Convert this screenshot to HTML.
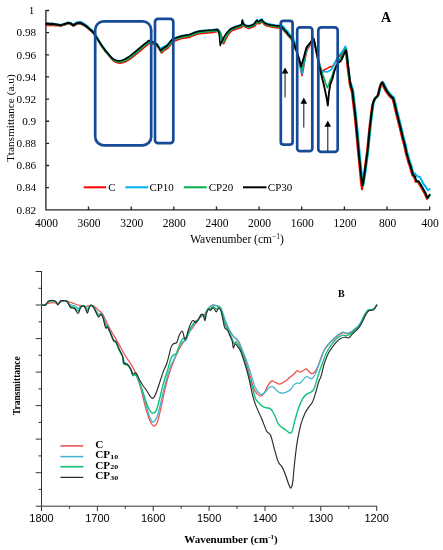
<!DOCTYPE html>
<html><head><meta charset="utf-8"><title>FTIR spectra</title>
<style>html,body{margin:0;padding:0;background:#fff}svg{display:block}text{fill:#000}</style></head>
<body>
<svg width="443" height="550" viewBox="0 0 443 550">
<rect width="443" height="550" fill="#fff"/>
<defs><filter id="soft" x="0" y="0" width="443" height="550" filterUnits="userSpaceOnUse"><feGaussianBlur stdDeviation="0.35"/></filter></defs>
<g filter="url(#soft)">
<g stroke="#262626" stroke-width="1.35" fill="none">
<path d="M45.9 10.0 V209.8 H430.2 M45.9 10.5 h3.2 M45.9 32.6 h3.2 M45.9 54.8 h3.2 M45.9 76.9 h3.2 M45.9 99.1 h3.2 M45.9 121.2 h3.2 M45.9 143.3 h3.2 M45.9 165.5 h3.2 M45.9 187.6 h3.2 M45.9 209.8 h3.2 M88.5 209.8 v-3.4 M131.2 209.8 v-3.4 M173.8 209.8 v-3.4 M216.5 209.8 v-3.4 M259.1 209.8 v-3.4 M301.7 209.8 v-3.4 M344.4 209.8 v-3.4 M387 209.8 v-3.4 M429.7 209.8 v-3.4"/></g>
<g style="font-family:'Liberation Serif',serif;font-size:11.2px" text-anchor="end">
<text x="34.4" y="14.2">1</text>
<text x="36.2" y="36.3">0.98</text>
<text x="36.2" y="58.5">0.96</text>
<text x="36.2" y="80.6">0.94</text>
<text x="36.2" y="102.8">0.92</text>
<text x="36.2" y="124.9">0.9</text>
<text x="36.2" y="147">0.88</text>
<text x="36.2" y="169.2">0.86</text>
<text x="36.2" y="191.3">0.84</text>
<text x="36.2" y="213.5">0.82</text>
</g>
<g style="font-family:'Liberation Serif',serif;font-size:11.5px" text-anchor="middle">
<text x="46.4" y="226.8">4000</text>
<text x="89" y="226.8">3600</text>
<text x="131.7" y="226.8">3200</text>
<text x="174.3" y="226.8">2800</text>
<text x="217" y="226.8">2400</text>
<text x="259.6" y="226.8">2000</text>
<text x="302.2" y="226.8">1600</text>
<text x="344.9" y="226.8">1200</text>
<text x="387.5" y="226.8">800</text>
<text x="430.2" y="226.8">400</text>
</g>
<text x="237" y="242.6" text-anchor="middle" style="font-family:'Liberation Serif',serif;font-size:11.5px">Wavenumber (cm<tspan dy="-4" font-size="7.5">−1</tspan><tspan dy="4">)</tspan></text>
<text transform="translate(14.4 118.2) rotate(-90)" text-anchor="middle" style="font-family:'Liberation Serif',serif;font-size:11.3px">Ttansmittance (a.u)</text>
<text x="386" y="22" text-anchor="middle" style="font-family:'Liberation Serif',serif;font-size:14px;font-weight:bold">A</text>
<g fill="none" stroke-linejoin="round" stroke-linecap="round" stroke-width="2">
<path stroke="#ff0000" d="M46 25.2 L48 25 L50 25.3 L52 25 L54 25.3 L55.3 25.4 L57 25.6 L59 25.6 L60.9 25.9 L62.5 25.2 L64.3 24.8 L66 24.2 L68.4 23.4 L69.8 23.9 L71.2 24.2 L72.3 25.2 L73.4 26 L75.1 24.9 L76.8 24 L78.5 23.7 L80.3 23.5 L81.7 24.2 L83.1 24.9 L84.5 25.7 L86 26.6 L87.7 28 L89.4 29.6 L91.2 31.1 L92.9 32.6 L94.4 34.6 L97.6 39.4 L101.7 46.1 L105.8 51.8 L109.9 56.6 L112.4 59.6 L114.5 61.4 L117.3 62.5 L120 62.9 L122.7 62.6 L125.4 61.6 L129.5 59.2 L133.5 56.2 L137.6 52.8 L141.7 49.4 L145 46.6 L148.4 44 L149.6 42.8 L151.8 43.1 L153.6 44.1 L155.6 45 L157.7 46.2 L159.7 49.6 L161.6 52.8 L162.9 51.3 L164.4 50.1 L167.7 48.1 L170.5 44.7 L173.2 41.3 L176.6 40 L179.9 38.9 L183.3 37.9 L186.9 37.4 L190.1 36.9 L192.9 35.7 L195.5 34.6 L199.9 33.4 L204.9 32.9 L210.3 32.4 L213.8 32.1 L218.3 31.2 L220.4 33 L221.8 37.5 L223.2 43.5 L224.2 42.5 L225.4 39.5 L227 36.5 L229.1 33.5 L231.2 30.8 L235.7 29 L241.4 27.2 L242.3 26.4 L243 22.1 L243.7 24.9 L244.4 26.2 L246.2 27.4 L248.5 28.2 L251.6 27.4 L254.5 26.2 L256.1 23.9 L257.5 22.1 L258.5 23.4 L259.5 23.6 L260.9 22.2 L262.2 21.5 L263.6 23.4 L265.6 25.2 L268.6 26.1 L271.5 26.7 L275.5 27.4 L279.8 27.8 L280.7 27.4 L283 29.3 L285.1 31.9 L286.9 33.7 L288.7 36.3 L290.3 37.8 L292.3 40 L294 44.5 L295.8 49.9"/>
<path stroke="#ff0000" stroke-width="1.55" d="M297.8 56 L299.5 63 L300.8 70 L302 75.6 L303.2 70 L304.5 62 L306 54 L307.5 49 L309.5 46 L311.5 43 L313.5 40 L315 45 L316.5 52 L318.5 60 L320.5 67 L322.5 72.1 L323.8 70.1 L325.7 69.1 L327.7 68.1 L329.7 66.8 L331.4 66.8 L332.9 66.2 L334.3 64 L336.9 59.5"/>
<path stroke="#ff0000" d="M339.8 56 L342.8 53 L344.2 50.8 L345.6 48.8 L346.4 51.5 L346.4 57 L347.5 67.2 L348.5 75 L349.5 83.2 L350.6 88 L351.8 91.9 L353.2 104 L354.7 116.6 L356.2 132 L357.7 148.6 L358.8 160 L360 171.8 L361 183 L362 189.3 L363.1 183 L364.3 171.8 L365.6 162 L367 151.5 L368.1 140 L369.3 128.2 L370.7 116 L372.2 105 L373.3 101.5 L374.5 99.1 L375.9 98 L377.4 96.2 L378.4 92 L379.5 87.5 L380.5 84.6 L381.5 83.2 L382.6 85 L383.8 87.5 L385.9 91.5 L388.2 94.8 L390.4 97.2 L392.5 99.1 L393.9 104 L395.4 110.8 L397.6 119.5 L399.8 128.2 L402.1 138 L404.2 145.7 L405.9 153.7 L408.5 163.1 L409.8 166.4 L412.3 175.4 L414.2 177.3 L415.5 181.7 L418 182.3 L421.2 187.4 L424.4 193.2 L426.9 198.9 L429.1 195.7"/>
<path stroke="#00b0f0" d="M46 23.6 L48 23.4 L50 23.8 L52 23.5 L54 23.9 L55.3 24 L57 24.4 L59 24.6 L60.9 25 L62.5 24.3 L64.3 23.9 L66 23.3 L68.3 22.5 L69.7 23 L71.1 23.2 L72.3 24 L73.4 24.6 L75.2 23.3 L76.9 22.3 L78.6 22 L80.4 21.8 L81.8 22.5 L83.2 23.2 L84.6 24 L86.1 25 L87.7 26.4 L89.4 28 L91.1 29.5 L92.8 31 L94.2 33 L97.3 37.7 L101.2 44.4 L105.2 50 L109.2 54.9 L111.7 57.8 L113.8 59.6 L116.5 60.6 L119.2 60.9 L121.9 60.6 L124.6 59.6 L128.7 57.2 L132.7 54.1 L136.8 50.7 L140.9 47.3 L144.2 44.5 L147.6 41.9 L148.8 40.7 L151 41 L152.8 42 L154.8 42.9 L156.9 43.9 L158.9 46.8 L160.9 49.2 L162.2 47.8 L163.7 46.8 L167 45.2 L169.8 42.2 L172.5 39.2 L175.9 37.8 L179.2 36.7 L182.6 35.7 L186.2 35.2 L189.4 34.7 L192.2 33.4 L194.8 32.3 L199.2 31.1 L204.2 30.6 L209.6 30.1 L213.2 29.8 L217.5 29.2 L219.6 31 L221 35.5 L222.4 41.5 L223.4 40.5 L224.6 37.5 L226.2 34.5 L228.3 31.5 L230.5 28.8 L235.2 26.7 L240.9 25 L241.8 24.2 L242.5 19.9 L243.2 22.7 L243.9 24 L245.7 25.2 L248 26 L251.2 25.2 L254.1 24 L255.7 21.7 L257.1 19.9 L258.1 21.2 L259.1 21.4 L260.5 19.9 L261.8 19.2 L263.2 21.1 L265.2 22.9 L268.2 23.9 L271.2 24.5 L275.2 25.2 L279.6 25.5 L280.8 25 L283.3 26.7 L285.5 29.4 L287.3 31.2 L289.2 33.9 L290.8 35.4 L292.8 37.6 L294.6 42.2 L296.4 47.6"/>
<path stroke="#00b0f0" stroke-width="1.55" d="M296.4 47.6 L297.8 55 L299.5 62 L300.8 68.5 L302 73.8 L303.2 68 L304.5 60 L306 52 L307.5 47.5 L309.5 44.5 L311.5 41.5 L313.5 38.8 L315 44 L316.5 51 L318.5 60 L320.5 67.5 L322.5 72.7 L324.4 71.2 L326.4 72.1 L328.4 71.4 L330.3 70.4 L332.3 68.1 L334.3 63.6 L336.9 58.3"/>
<path stroke="#00b0f0" d="M340.1 54.4 L342.8 51.1 L344.2 48.8 L345.4 46.5 L346.6 51 L347.6 60 L348.6 70 L349.8 80 L352 86.5 L353.2 90.4 L354.6 102.5 L356.1 115.1 L357.6 130.5 L359.1 147.1 L360.2 158.5 L361.4 170.3 L362.4 178.5 L363.4 184.8 L364.5 178.5 L365.7 170.3 L367 160.5 L368.4 150 L369.5 138.5 L370.7 126.7 L372.1 114.5 L373.6 103.5 L374.7 100 L375.9 97.6 L377.3 96.5 L378.8 94.7 L379.8 90.5 L380.9 86 L381.9 83.1 L382.9 81.7 L384 83.5 L385.2 86 L387.3 90 L389.6 93.3 L391.8 95.7 L393.9 97.6 L395.3 102.5 L396.8 109.3 L399 118 L401.2 126.7 L403.5 136.5 L405.6 144.2 L407.3 152.2 L409.9 161.6 L411.2 164.9 L413.7 173.9 L414.8 173.3 L417.4 176.3 L419.9 176.9 L423.1 183.3 L426.3 187.7 L427.9 190.3 L429.7 189"/>
<path stroke="#00b050" d="M46 24.2 L48 24 L50 24.4 L52 24.1 L54 24.5 L55.3 24.6 L57.1 25 L59.1 25.3 L61 25.7 L62.6 25 L64.4 24.6 L66.1 23.9 L68.4 23.1 L69.8 23.6 L71.2 23.9 L72.3 24.9 L73.4 25.6 L75.1 24.5 L76.9 23.6 L78.6 23.3 L80.3 23.1 L81.7 23.8 L83.1 24.5 L84.5 25.3 L86 26.2 L87.6 27.6 L89.4 29.1 L91.1 30.6 L92.8 32 L94.2 34 L97.4 38.7 L101.4 45.3 L105.5 50.9 L109.5 55.7 L112 58.6 L114.2 60.4 L116.9 61.5 L119.6 61.8 L122.3 61.5 L125 60.5 L129.1 58.1 L133.1 55.1 L137.2 51.7 L141.3 48.3 L144.6 45.5 L148 42.9 L149.2 41.7 L151.4 42 L153.2 43 L155.2 43.9 L157.3 45.1 L159.3 48.5 L161.2 51.7 L162.5 50.2 L164 49 L167.3 47 L170.1 43.6 L172.8 40.2 L176.2 38.9 L179.5 37.8 L182.9 36.8 L186.5 36.3 L189.7 35.8 L192.5 34.6 L195.1 33.5 L199.5 32.3 L204.5 31.8 L209.9 31.3 L213.5 31 L217.7 30.4 L219.8 32.2 L221.1 36.6 L222.5 42.6 L223.5 41.6 L224.7 38.6 L226.3 35.6 L228.4 32.6 L230.6 29.9 L235.4 27.9 L241.1 26.2 L242 25.4 L242.7 21.1 L243.4 23.9 L244.1 25.2 L245.9 26.4 L248.2 27.2 L251.4 26.4 L254.3 25.2 L255.9 22.9 L257.3 21.1 L258.3 22.4 L259.3 22.6 L260.6 21.1 L261.9 20.4 L263.3 22.3 L265.3 24.1 L268.3 25.1 L271.3 25.7 L275.3 26.4 L279.6 26.8 L280.5 26.4 L282.8 28.3 L284.9 30.9 L286.7 32.7 L288.6 35.4 L290.2 36.9 L292.1 39 L293.9 43.6 L295.7 49"/>
<path stroke="#00b050" stroke-width="1.55" d="M297.8 55 L299.5 61 L300.8 66.5 L302 70.2 L303.2 65 L304.5 58.5 L306 51 L307.5 47 L309.5 44.2 L311.5 41.3 L313.5 38.8 L315 44 L316.5 51 L318.5 60.5 L320.5 69 L322 73 L323.1 75.3 L324.4 79.3 L325.7 83.8 L327.4 87.8 L328.8 84.5 L330.1 79.9 L331.6 77.3 L333.6 71.4 L336.2 64.9"/>
<path stroke="#00b050" d="M339.5 59.6 L342.8 55.1 L344.2 52 L345.6 49 L347 55 L348.1 65.5 L349.1 73.5 L350.1 81.7 L351.4 87.5 L352.6 91.4 L354 103.5 L355.5 116.1 L357 131.5 L358.5 148.1 L359.6 159.5 L360.8 171.3 L361.8 179.5 L362.8 185.8 L363.9 179.5 L365.1 171.3 L366.4 161.5 L367.8 151 L368.9 139.5 L370.1 127.7 L371.5 115.5 L373 104.5 L374.1 101 L375.3 98.6 L376.7 97.5 L378.2 95.7 L379.2 91.5 L380.3 87 L381.3 84.1 L382.3 82.7 L383.4 84.5 L384.6 87 L386.7 91 L389 94.3 L391.2 96.7 L393.3 98.6 L394.7 103.5 L396.2 110.3 L398.4 119 L400.6 127.7 L402.9 137.5 L405 145.2 L406.7 153.2 L409.3 162.6 L410.6 165.9 L413.1 174.9 L415 176.8 L416.3 181.2 L418.8 181.8 L422 186.9 L425.2 192.7 L427.7 198.4 L429.9 195.2"/>
<path stroke="#000" stroke-width="2" d="M46 23.8 L48 23.6 L50 24 L52 23.7 L54 24.1 L55.3 24.2 L57 24.6 L59 24.9 L60.9 25.3 L62.5 24.6 L64.3 24.2 L66 23.6 L68.3 22.8 L69.7 23.3 L71.1 23.6 L72.2 24.6 L73.3 25.3 L75 24.2 L76.7 23.3 L78.4 23 L80.1 22.8 L81.5 23.5 L82.9 24.2 L84.3 25 L85.8 25.9 L87.4 27.2 L89.1 28.7 L90.8 30.1 L92.5 31.5"/>
<path stroke="#000" stroke-width="1.5" d="M92.5 31.5 L93.9 33.4 L97 38 L101 44.5 L105 50 L109 54.7 L111.5 57.6 L113.6 59.4 L116.3 60.4 L119 60.7 L121.7 60.4 L124.4 59.4 L128.5 57 L132.5 54 L136.6 50.6 L140.7 47.2 L144 44.4 L147.4 41.8 L148.6 40.6 L150.8 40.9 L152.6 41.9 L154.6 42.8 L156.7 44 L158.7 47.4 L160.7 50.7 L162 49.2 L163.5 48 L166.8 46 L169.6 42.6 L172.3 39.2 L175.7 37.9 L179 36.8 L182.4 35.8 L186 35.3 L189.2 34.8 L192 33.6 L194.6 32.5 L199 31.3 L204 30.8 L209.4 30.3 L213 30 L217.3 29.4 L218.5 31 L219.3 35.5 L220.3 45.6 L221.3 42 L222.4 40.6 L224 37 L225.4 34.5 L228 31.5 L230.5 29 L235 27 L240.7 25.3 L241.6 24.5 L242.3 20.2 L243 23 L243.7 24.3 L245.5 25.5 L247.8 26.3 L251 25.5 L253.9 24.3 L255.5 22 L256.9 20.2 L257.9 21.5 L258.9 21.7 L260.3 20.3 L261.6 19.6 L263 21.5 L265 23.3 L268 24.3 L271 24.9 L275 25.6 L279.3 26 L280.2 25.6 L282.5 27.5 L284.7 30.2 L286.5 32 L288.4 34.7 L290 36.2 L292 38.4"/>
<path stroke="#000" stroke-width="1.85" d="M292 38.4 L293.8 43 L295.6 48.4 L297.5 54 L299.3 59.3 L300.2 63 L301.1 66.5 L302.4 62 L303.8 57.5 L305.2 52 L306.5 47.5 L308.3 45 L310.2 42.9 L312 40.2 L313.5 38.4 L314.5 42 L315.6 48.4 L317.4 57 L319.3 66.5 L321.5 75.5 L323.8 84.7 L325.2 91 L326.5 97.5 L327.3 102 L327.8 105.6 L328.4 99 L329 92.4 L330.3 84.5 L331.3 81.5 L332.3 79.3 L333.3 75.5 L334.3 71.4 L335.6 68 L336.9 64.9 L338.5 62.8 L340.1 61.6 L341.5 59.8 L342.8 57 L344.2 53.8 L345.4 51.1 L346 50.2 L347 56 L348.1 66.2 L349.1 74 L350.1 82.2 L351.2 87 L352.4 90.9 L353.8 103 L355.3 115.6 L356.8 131 L358.3 147.6 L359.4 159 L360.6 170.8 L361.6 179 L362.6 185.3 L363.7 179 L364.9 170.8 L366.2 161 L367.6 150.5 L368.7 139 L369.9 127.2 L371.3 115 L372.8 104 L373.9 100.5 L375.1 98.1 L376.5 97 L378 95.2 L379 91 L380.1 86.5 L381.1 83.6 L382.1 82.2 L383.2 84 L384.4 86.5 L386.5 90.5 L388.8 93.8 L391 96.2 L393.1 98.1 L394.5 103 L396 109.8 L398.2 118.5 L400.4 127.2 L402.7 137 L404.8 144.7 L406.5 152.7 L409.1 162.1 L410.4 165.4 L412.9 174.4 L414.8 176.3 L416.1 180.7 L418.6 181.3 L421.8 186.4 L425 192.2 L427.5 197.9 L429.7 194.7"/>
</g>
<g fill="none" stroke="#184b98" stroke-width="2.7">
<rect x="95.2" y="21.4" width="56" height="123.9" rx="8.5" ry="8.5"/>
<rect x="155" y="18.9" width="18.3" height="124.2" rx="3" ry="3"/>
<rect x="280.8" y="20.8" width="11.8" height="123.8" rx="2.5" ry="2.5"/>
<rect x="297.2" y="27.4" width="15.1" height="123.8" rx="2.8" ry="2.8"/>
<rect x="318.3" y="27.4" width="19.4" height="124.5" rx="3" ry="3"/>
</g>
<g stroke="#111" stroke-width="1" fill="#000">
<path d="M285.1 97.4 V71.5"/><path stroke="none" d="M285.1 67.5 l3.3 6.1 h-6.6 z"/>
<path d="M303.8 127.6 V101.6"/><path stroke="none" d="M303.8 97.6 l3.3 6.1 h-6.6 z"/>
<path d="M327.8 151 V124.6"/><path stroke="none" d="M327.8 120.6 l3.3 6.1 h-6.6 z"/>
</g>
<g stroke-width="2" fill="none" stroke-linecap="butt">
<path stroke="#ff0000" d="M83.7 187.3 H106"/>
<path stroke="#00b0f0" d="M125.4 187.3 H148.2"/>
<path stroke="#00b050" d="M183.8 187.3 H206.7"/>
<path stroke="#000" d="M243 187.3 H266.5"/>
</g>
<g style="font-family:'Liberation Serif',serif;font-size:11px">
<text x="108.2" y="191">C</text>
<text x="149.4" y="191">CP10</text>
<text x="208.7" y="191">CP20</text>
<text x="267.8" y="191">CP30</text>
</g>
<g stroke="#333" stroke-width="1" fill="none">
<path d="M41.5 271.0 V506.2 H377.2 M41.5 271.5 h-5.8 M41.5 288.3 h-3 M41.5 305 h-5.8 M41.5 321.8 h-3 M41.5 338.6 h-5.8 M41.5 355.3 h-3 M41.5 372.1 h-5.8 M41.5 388.9 h-3 M41.5 405.6 h-5.8 M41.5 422.4 h-3 M41.5 439.1 h-5.8 M41.5 455.9 h-3 M41.5 472.7 h-5.8 M41.5 489.4 h-3 M41.5 506.2 h-5.8 M41.5 506.2 v4.8 M69.4 506.2 v2.6 M97.4 506.2 v4.8 M125.3 506.2 v2.6 M153.2 506.2 v4.8 M181.2 506.2 v2.6 M209.1 506.2 v4.8 M237 506.2 v2.6 M265 506.2 v4.8 M292.9 506.2 v2.6 M320.8 506.2 v4.8 M348.8 506.2 v2.6 M376.7 506.2 v4.8"/></g>
<g style="font-family:'Liberation Sans',sans-serif;font-size:10px" text-anchor="middle">
<text transform="translate(41.5 522.3) scale(1.1 1)">1800</text>
<text transform="translate(97.4 522.3) scale(1.1 1)">1700</text>
<text transform="translate(153.2 522.3) scale(1.1 1)">1600</text>
<text transform="translate(209.1 522.3) scale(1.1 1)">1500</text>
<text transform="translate(265 522.3) scale(1.1 1)">1400</text>
<text transform="translate(320.8 522.3) scale(1.1 1)">1300</text>
<text transform="translate(376.7 522.3) scale(1.1 1)">1200</text>
</g>
<text x="231" y="542.8" text-anchor="middle" style="font-family:'Liberation Serif',serif;font-size:11px;font-weight:bold">Wavenumber (cm<tspan dy="-3.6" font-size="7">-1</tspan><tspan dy="3.6">)</tspan></text>
<text transform="translate(20 385.7) rotate(-90)" text-anchor="middle" style="font-family:'Liberation Serif',serif;font-size:9.5px;font-weight:bold">Transmittance</text>
<text x="341.4" y="296.5" text-anchor="middle" style="font-family:'Liberation Serif',serif;font-size:10px;font-weight:bold">B</text>
<g fill="none" stroke-linejoin="round" stroke-linecap="round">
<path stroke="#ee4d4d" stroke-width="1.25" d="M41.6 304.8 C42.2 304.8 44 305 45 304.8 C46 304.6 46.6 303.9 47.9 303.5 C49.2 303.1 51.3 302.5 53 302.5 C54.7 302.5 56.5 303.7 58 303.5 C59.5 303.3 60.7 301.9 62 301.5 C63.3 301.1 64.7 300.7 66 300.8 C67.3 300.9 68.7 301.6 70 302 C71.3 302.4 72.7 303 74 303.5 C75.3 304 76.7 304.7 78 305 C79.3 305.3 80.7 305.2 82 305.5 C83.3 305.8 84.7 306.5 86 306.5 C87.3 306.5 88.8 305.7 90 305.5 C91.2 305.3 92 305.1 93 305.5 C94 305.9 94.8 307 96 308 C97.2 309 98.8 310.4 100 311.5 C101.2 312.6 102.1 313.1 103 314.5 C103.9 315.9 104.2 317.2 105.6 320 C107 322.8 109.2 327.5 111.3 331.3 C113.4 335.1 115.8 338.7 118 342.6 C120.2 346.6 122.5 351.2 124.8 355 C127.1 358.8 129.7 361.9 131.6 365.1 C133.5 368.3 134.6 370.4 136.1 374.2 C137.6 378 139.1 382.4 140.6 387.7 C142.1 393 143.8 400.9 145.1 405.8 C146.4 410.7 147.4 414 148.5 417 C149.6 420 150.6 422.3 151.5 423.8 C152.4 425.3 153.2 426.5 154.2 426.1 C155.2 425.7 156.5 424.6 157.6 421.6 C158.7 418.6 159.8 412.9 160.9 408 C162 403.1 163.2 397.1 164.3 392.2 C165.4 387.3 166.4 383.2 167.7 378.7 C169 374.2 170.5 369.6 172.2 365.1 C173.9 360.6 176.2 355.2 177.9 351.6 C179.6 348 181.1 345.8 182.4 343.7 C183.7 341.6 184.7 341.1 185.8 339.2 C186.9 337.3 188.1 334.3 189.2 332.4 C190.3 330.5 191.4 329.5 192.6 327.9 C193.8 326.2 195 324.2 196.3 322.5 C197.6 320.8 199 318.8 200.3 317.4 C201.7 316 203 315.9 204.4 314.4 C205.8 312.9 207.2 309.8 208.5 308.3 C209.8 306.8 211.2 305.6 212.5 305.2 C213.8 304.8 215.4 305.5 216.6 305.9 C217.8 306.2 218.8 306.4 219.6 307.3 C220.4 308.2 220.8 309.1 221.7 311.3 C222.5 313.5 223.5 317.4 224.7 320.5 C225.9 323.6 227.5 327.1 228.8 329.6 C230.2 332.1 231.6 334.2 232.8 335.7 C234 337.2 234.9 337.6 235.9 338.8 C236.9 340 237.9 340.8 238.9 342.8 C239.9 344.8 241 348.3 242 351 C243 353.7 244 356.1 245 359.1 C246 362.2 247.1 365.9 248.1 369.3 C249.1 372.7 250.1 376 251.1 379.4 C252.1 382.8 253.2 387.2 254.2 389.6 C255.2 392 256.1 392.6 257.2 393.7 C258.3 394.8 259.4 396.1 260.6 396 C261.8 395.9 263 394.9 264.2 393.1 C265.4 391.3 266.7 387.4 268 385.4 C269.3 383.4 270.5 381.4 271.8 380.9 C273.1 380.4 274.3 381.8 275.6 382.4 C276.9 382.9 278.1 384.2 279.4 384.2 C280.7 384.2 282 383.1 283.3 382.4 C284.6 381.7 285.8 380.8 287.1 379.8 C288.4 378.8 289.6 377.6 290.9 376.5 C292.2 375.4 293.6 374.2 294.7 373.2 C295.8 372.2 296.4 370.9 297.3 370.7 C298.2 370.5 298.8 372.2 299.8 372.2 C300.8 372.2 302 371.2 303.1 370.7 C304.2 370.1 305.2 368.7 306.2 368.9 C307.2 369.1 308.1 371 309.1 371.8 C310.1 372.6 311.2 373.8 312.2 373.7 C313.2 373.6 314.2 372.7 315.2 371.3 C316.2 369.9 317.3 367.6 318.3 365.2 C319.3 362.8 320.3 359.6 321.3 357.1 C322.3 354.6 323.2 352.1 324.4 350 C325.6 347.9 327.1 346.1 328.5 344.5 C329.9 342.9 331.1 341.7 332.5 340.4 C333.9 339.1 335.2 337.8 336.6 336.7 C338 335.6 339.5 334.4 340.7 333.7 C341.9 333 342.5 332.7 343.7 332.7 C344.9 332.7 346.4 333.9 347.8 333.7 C349.2 333.5 350.5 332.6 351.8 331.7 C353.1 330.8 354.7 329.2 355.9 328.2 C357.1 327.2 357.9 326.9 358.9 325.6 C359.9 324.3 361 322.4 362 320.5 C363 318.6 364 316.1 365 314.4 C366 312.7 367.1 311.1 368.1 310.3 C369.1 309.6 370.1 310.2 371.1 309.9 C372.1 309.6 373.2 309.5 374.2 308.7 C375.1 307.9 376.4 305.8 376.8 305.2"/>
<path stroke="#3fb2d2" stroke-width="1.25" d="M41.6 304.8 C42.2 304.8 44.2 305.4 45.2 305 C46.2 304.6 47 303.1 47.9 302.5 C48.8 301.9 49.7 301.4 50.6 301.2 C51.5 300.9 52.4 300.9 53.3 301 C54.2 301.1 55.2 301.5 56 302 C56.8 302.5 57.1 304.1 57.9 304 C58.7 303.9 59.7 301.8 60.6 301.3 C61.5 300.8 62.4 300.9 63.3 300.8 C64.2 300.7 65.2 300.6 66 300.8 C66.8 301 67.3 301.4 68 302 C68.7 302.6 69.4 303.9 70.1 304.5 C70.8 305.1 71.5 305.2 72.3 305.5 C73.1 305.8 74 305.5 75 306 C76 306.5 77.1 308.4 78 308.5 C78.9 308.6 79.6 307 80.4 306.5 C81.2 306 82.3 305.5 83.1 305.5 C83.9 305.5 84.6 305.9 85.3 306.5 C86 307.1 86.6 309 87.3 309 C88 309 88.8 307.1 89.4 306.5 C90.1 305.9 90.4 305.1 91.2 305.3 C92 305.5 93.2 306.6 94 307.5 C94.8 308.4 95.3 309.4 96.1 310.5 C96.8 311.6 97.7 313.5 98.5 314 C99.3 314.5 100.4 313 101.2 313.5 C102 314 102.5 315.2 103.3 317 C104 318.8 105 322.6 105.7 324 C106.4 325.4 106.8 324.2 107.5 325.5 C108.2 326.8 109.2 329.6 110.2 332 C111.2 334.4 112.5 338.2 113.5 340 C114.5 341.8 115 340.9 116 342.5 C117 344.1 118.1 347.2 119.2 349.5 C120.3 351.8 121.7 354.4 122.6 356.5 C123.5 358.6 123.7 360.7 124.5 362 C125.3 363.3 126.5 363.4 127.5 364.5 C128.5 365.6 129.6 367 130.5 368.5 C131.4 370 132.1 372.3 133 373.5 C133.9 374.7 134.8 373.4 136.1 375.5 C137.4 377.6 139.1 381.7 140.6 386 C142.1 390.3 143.8 396.7 145.1 401.3 C146.4 405.9 147.4 410.5 148.5 413.7 C149.6 416.9 150.7 419.1 151.5 420.5 C152.3 421.9 152.7 422.6 153.6 422 C154.5 421.4 155.9 419.7 157 417 C158.1 414.3 159 409.9 160 405.8 C161 401.7 162.1 396.7 163.2 392.2 C164.3 387.7 165.5 382.8 166.6 378.7 C167.7 374.6 168.9 370.4 170 367.4 C171.1 364.4 172.3 363.1 173.4 360.6 C174.5 358.2 175.6 355.3 176.7 352.7 C177.8 350.1 178.9 346.7 180 344.8 C181.1 342.9 182.5 342.1 183.5 341.4 C184.5 340.6 185.2 341.4 186 340.3 C186.8 339.2 187.1 336.8 188 334.7 C188.9 332.6 190.2 330 191.4 327.9 C192.6 325.8 193.8 323.7 195 322.3 C196.2 320.9 197.2 320.7 198.3 319.5 C199.4 318.3 200.3 315.8 201.3 315 C202.3 314.2 203.7 315.6 204.5 315 C205.3 314.4 205.7 312.7 206.4 311.5 C207.1 310.3 207.5 309.1 208.5 308 C209.5 306.9 211.2 305.4 212.5 305 C213.8 304.6 215.4 305.2 216.6 305.5 C217.8 305.8 218.9 305.9 219.8 306.8 C220.7 307.7 221.3 308.8 222.2 311 C223.1 313.2 224 316.9 225.2 320 C226.4 323.1 228 326.8 229.3 329.5 C230.7 332.2 232.1 334.4 233.3 336 C234.5 337.6 235.4 337.9 236.4 339 C237.4 340.1 238.4 340.5 239.4 342.5 C240.4 344.5 241.6 348.2 242.7 351 C243.8 353.8 244.9 355.9 246 359 C247.1 362.1 248.4 365.9 249.5 369.3 C250.6 372.7 251.5 376.3 252.5 379.4 C253.5 382.5 254.5 385.8 255.5 388 C256.5 390.2 257.5 391.4 258.5 392.5 C259.5 393.6 260.5 394.5 261.6 394.4 C262.8 394.3 264.1 392.9 265.4 391.8 C266.7 390.7 268.1 388.4 269.3 387.5 C270.5 386.6 271.6 386.4 272.6 386.7 C273.7 387 274.5 388.3 275.6 389.3 C276.7 390.3 278.1 392 279.4 392.6 C280.7 393.2 282 393.2 283.3 393.1 C284.6 393 285.8 392.4 287.1 391.8 C288.4 391.2 289.8 390.4 290.9 389.3 C291.9 388.2 292.3 386.5 293.4 385.4 C294.5 384.3 296.2 383.2 297.3 382.9 C298.4 382.6 298.8 384 299.8 383.4 C300.9 382.8 302.5 380.2 303.6 379.1 C304.8 378 305.8 376.7 306.7 376.5 C307.6 376.3 308.2 377.5 309.1 377.8 C310 378.1 311.2 379 312.2 378.4 C313.2 377.8 314.2 376.3 315.2 374.3 C316.2 372.3 317.3 368.9 318.3 366.2 C319.3 363.5 320.4 360.7 321.3 358.1 C322.2 355.5 322.9 352.8 324 350.5 C325.1 348.2 326.7 346.2 328 344.5 C329.3 342.8 330.6 341.6 332 340.2 C333.4 338.8 334.7 337.6 336.1 336.4 C337.5 335.2 339 333.9 340.2 333.2 C341.4 332.5 342.2 332.2 343.4 332.2 C344.6 332.2 346.1 333.4 347.5 333.3 C348.9 333.2 350.1 332.4 351.5 331.5 C352.9 330.6 354.4 329 355.6 328 C356.8 327 357.6 326.7 358.6 325.4 C359.6 324.1 360.8 322.2 361.8 320.3 C362.8 318.4 363.8 315.9 364.8 314.2 C365.8 312.5 367 310.9 368 310.1 C369 309.4 370 310 371 309.7 C372 309.4 373.2 309.2 374.2 308.5 C375.2 307.8 376.4 305.8 376.8 305.2"/>
<path stroke="#12c276" stroke-width="1.4" d="M41.6 304.8 C42.2 304.9 44.2 305.8 45.2 305.3 C46.2 304.8 47 302.8 47.9 302 C48.8 301.2 49.7 301 50.6 300.8 C51.5 300.6 52.4 300.6 53.3 300.8 C54.2 301 55.2 301.4 56 302 C56.8 302.6 57.1 304.8 57.9 304.6 C58.7 304.4 59.7 301.6 60.6 301 C61.5 300.4 62.4 300.8 63.3 300.8 C64.2 300.8 65.2 300.5 66 300.8 C66.8 301.1 67.1 301.5 67.8 302.4 C68.5 303.3 69.3 305.2 70.1 306 C70.8 306.8 71.5 306.7 72.3 307 C73.1 307.3 74 307.1 75 307.8 C76 308.5 77.2 311.1 78.1 311 C79 310.9 79.6 307.9 80.4 307 C81.2 306.1 82.3 305.6 83.1 305.7 C83.9 305.8 84.6 306.4 85.3 307.3 C86 308.2 86.6 311.1 87.3 311 C88 310.9 88.8 307.8 89.4 306.8 C90.1 305.9 90.4 305.1 91.2 305.3 C92 305.5 93.2 306.7 94 307.8 C94.8 308.9 95.3 310.5 96.1 311.8 C96.8 313.1 97.7 315.1 98.5 315.5 C99.3 315.9 100.4 313.6 101.2 314 C102 314.4 102.6 316.1 103.3 318 C104 319.9 104.9 324.1 105.6 325.5 C106.3 326.9 106.8 325.4 107.5 326.5 C108.2 327.6 109 329.6 110 332 C111 334.4 112.5 339.2 113.5 341 C114.5 342.8 115.1 341 116 342.5 C116.9 344 117.9 347.6 119 350 C120.1 352.4 121.8 354.7 122.6 357 C123.4 359.3 123 362.7 123.7 364 C124.4 365.3 125.9 364.2 127 365 C128.1 365.8 129.6 367.2 130.5 369 C131.4 370.8 131.8 374.5 132.7 375.5 C133.6 376.5 134.9 373.8 136 375 C137.1 376.2 138.3 380.1 139.5 383 C140.7 385.9 141.9 389 143 392.2 C144.1 395.4 145.2 399.4 146.3 402.4 C147.4 405.4 148.6 408.5 149.7 410.3 C150.8 412.1 151.9 413.2 153 413.2 C154.1 413.2 155.3 412.9 156.4 410.3 C157.5 407.8 158.7 402.2 159.8 397.9 C160.9 393.6 162.1 388.4 163.2 384.3 C164.3 380.2 165.6 376.2 166.6 373 C167.6 369.8 168.3 367.5 169 365.1 C169.7 362.7 170.3 360.1 171 358.4 C171.7 356.7 172.6 355.8 173.4 355 C174.2 354.2 175.2 354.8 176 353.9 C176.8 352.9 177.3 351 178 349.3 C178.7 347.6 179.3 345.4 180 343.7 C180.7 342 181.6 340.1 182.4 339.2 C183.2 338.2 184.2 338.4 185 338 C185.8 337.6 186.3 338.1 187 337 C187.7 335.9 188.2 333.2 189 331.3 C189.8 329.4 191 327.2 192 325.6 C193 324 193.9 322.5 195 321.5 C196.1 320.5 197.2 320.6 198.3 319.5 C199.4 318.4 200.5 315.3 201.3 314.6 C202.2 313.9 202.8 314.6 203.4 315.2 C204 315.8 204.5 318.9 205 318.5 C205.5 318.1 205.8 314.6 206.4 313 C207 311.4 207.8 309.5 208.5 308.8 C209.2 308.1 209.8 309.3 210.5 309 C211.2 308.7 211.8 307.1 212.5 306.8 C213.2 306.6 214 307.1 214.6 307.5 C215.2 307.9 215.5 309 216.2 309 C216.9 309 217.8 307.4 218.6 307.3 C219.3 307.2 220 307.2 220.7 308.5 C221.4 309.8 222 312.4 222.7 315 C223.4 317.6 223.8 321.6 224.7 324 C225.5 326.4 226.8 327.5 227.8 329.5 C228.8 331.5 230 334.3 230.8 336 C231.6 337.7 231.9 338.2 232.4 339.5 C232.9 340.8 233.2 343.1 233.8 343.5 C234.4 343.9 235 341.8 235.8 342 C236.6 342.2 237.5 343.4 238.4 345 C239.3 346.6 240.5 348.9 241.5 351.5 C242.5 354.1 243.5 357.2 244.5 360.5 C245.5 363.8 246.6 367.6 247.6 371 C248.6 374.4 249.5 378.2 250.3 381 C251.2 383.8 251.9 385.1 252.7 388 C253.5 390.9 254.2 395.6 255.3 398.2 C256.4 400.8 257.8 401.9 259.1 403.3 C260.4 404.7 261.6 405.9 262.9 406.6 C264.2 407.4 265.4 407.4 266.7 407.8 C268 408.2 269.2 407.8 270.5 408.9 C271.8 410 273.1 412.2 274.4 414.7 C275.7 417.1 276.9 421.5 278.2 423.6 C279.5 425.7 280.7 426.3 282 427.4 C283.3 428.5 284.5 429.1 285.8 430 C287.1 430.9 288.5 432.8 289.6 433 C290.7 433.2 291.4 433.2 292.2 431.2 C293 429.2 293.6 424.9 294.7 421.1 C295.8 417.3 297.2 411.9 298.5 408.3 C299.8 404.7 301 401.7 302.3 399.4 C303.6 397.1 304.9 395.5 306.2 394.4 C307.5 393.3 308.7 393.5 310 392.6 C311.3 391.8 312.8 391.1 313.8 389.3 C314.9 387.5 315.4 384.5 316.3 381.6 C317.2 378.7 318.3 375.1 319.3 372 C320.3 368.9 321.2 366.4 322.4 363.2 C323.6 360 325 355.9 326.4 353 C327.8 350.1 329.1 347.9 330.5 345.9 C331.9 343.9 333.2 342.2 334.6 340.8 C336 339.4 337.2 338.1 338.6 337.2 C340 336.2 341.4 335.4 342.7 335.1 C344 334.9 345.3 335.9 346.7 335.7 C348.1 335.5 349.4 334.6 350.8 333.7 C352.2 332.8 353.5 331.4 354.9 330.2 C356.2 329 357.7 328.2 358.9 326.6 C360.1 325.1 361 322.9 362 320.9 C363 318.9 364 316.2 365 314.4 C366 312.6 367.1 311.1 368.1 310.3 C369.1 309.6 370.1 310.2 371.1 309.9 C372.1 309.6 373.2 309.5 374.2 308.7 C375.1 307.9 376.4 305.8 376.8 305.2"/>
<path stroke="#2b2b2b" stroke-width="1.15" d="M41.6 304.8 C42.2 304.9 44.2 305.8 45.2 305.3 C46.2 304.8 47 302.5 47.9 301.7 C48.8 300.9 49.7 300.7 50.6 300.5 C51.5 300.3 52.4 300.3 53.3 300.5 C54.2 300.7 55.2 301 56 301.7 C56.8 302.4 57.1 304.9 57.9 304.8 C58.7 304.7 59.7 301.5 60.6 300.8 C61.5 300.1 62.4 300.8 63.3 300.8 C64.2 300.8 65.2 300.5 66 300.8 C66.8 301.1 67.1 301.6 67.8 302.6 C68.5 303.7 69.3 306.2 70.1 307.1 C70.8 308 71.5 307.7 72.3 308 C73.1 308.3 74 308.1 75 309 C76 309.9 77.2 313.7 78.1 313.5 C79 313.3 79.6 309.3 80.4 308 C81.2 306.7 82.3 305.9 83.1 305.9 C83.9 305.9 84.6 306.8 85.3 308 C86 309.2 86.6 313.2 87.3 313.1 C88 313 88.8 308.4 89.4 307.1 C90.1 305.8 90.4 305.2 91.2 305.3 C92 305.4 93.2 306.8 94 308 C94.8 309.2 95.3 311.1 96.1 312.6 C96.8 314.1 97.7 316.8 98.5 317.1 C99.3 317.4 100.4 314.1 101.2 314.4 C102 314.7 102.5 316.6 103.3 318.9 C104 321.1 105 326.5 105.7 327.9 C106.4 329.2 106.8 326.2 107.5 327 C108.2 327.8 109.2 330.2 110.2 332.4 C111.2 334.6 112.6 338.8 113.5 340.3 C114.4 341.8 114.8 339.9 115.8 341.4 C116.8 342.9 118.1 346.9 119.2 349.3 C120.3 351.8 121.8 353.8 122.6 356.1 C123.3 358.4 123 361.6 123.7 362.9 C124.5 364.2 126 363.1 127.1 364 C128.2 364.9 129.6 366.8 130.5 368.5 C131.4 370.2 131.8 373.4 132.7 374.2 C133.6 374.9 135 372.1 136.1 373 C137.2 373.9 138.4 377.7 139.5 379.8 C140.6 381.9 141.8 383.8 142.9 385.5 C144 387.2 145.2 388.3 146.3 390 C147.4 391.7 148.6 394.2 149.7 395.6 C150.8 397 151.9 398.9 153 398.3 C154.1 397.7 155.3 394.9 156.4 392.2 C157.5 389.5 158.7 385.5 159.8 382.1 C160.9 378.7 162.1 374.9 163.2 371.9 C164.3 368.9 165.7 366.6 166.6 364 C167.5 361.4 168.1 358.9 168.8 356.1 C169.6 353.3 170.3 349.2 171.1 347.1 C171.9 345 172.5 344.4 173.4 343.7 C174.3 342.9 175.8 343.9 176.7 342.6 C177.6 341.3 178.1 337.7 179 335.8 C179.9 333.9 181.4 330.6 182.4 331.3 C183.4 332 184.2 339.9 185.1 339.8 C186 339.7 187.1 333.6 188.1 330.7 C189.1 327.8 190.3 324.2 191.2 322.5 C192 320.8 192.4 320.5 193.2 320.5 C194 320.5 195.1 322.7 195.9 322.5 C196.8 322.3 197.4 320.9 198.3 319.5 C199.2 318.1 200.5 315.1 201.3 314.4 C202.2 313.7 202.8 314.4 203.4 315.4 C204 316.4 204.5 320.8 205 320.5 C205.5 320.2 205.8 315.3 206.4 313.4 C207 311.5 207.8 309.8 208.5 309.3 C209.2 308.8 209.8 310.5 210.5 310.3 C211.2 310.1 211.8 308.1 212.5 307.9 C213.2 307.7 214 308.6 214.6 309.3 C215.2 310 215.5 312.2 216.2 312 C216.9 311.8 217.8 308.6 218.6 308.3 C219.3 308 220 308.6 220.7 310.3 C221.4 312 222 315.6 222.7 318.5 C223.4 321.4 223.8 325.6 224.7 327.6 C225.5 329.6 226.8 329 227.8 330.7 C228.8 332.4 230 335.9 230.8 337.8 C231.6 339.7 232 340.1 232.4 341.8 C232.8 343.5 232.8 347.5 233.3 347.9 C233.8 348.2 234.5 344.1 235.3 343.9 C236.1 343.7 237 345.5 237.9 346.9 C238.8 348.2 240 349.6 241 352 C242 354.4 243 357.9 244 361.1 C245 364.3 246.1 367.6 247.1 371.3 C248.1 375 249.1 379.1 250.1 383.5 C251.1 387.9 252.1 393.8 253.2 397.7 C254.3 401.6 255.1 403.6 256.5 407.1 C257.9 410.6 259.9 414.5 261.6 418.5 C263.3 422.5 265.2 428.4 266.7 431.2 C268.2 434 269.2 432.1 270.5 435.1 C271.8 438.1 273.1 444.7 274.4 449.1 C275.7 453.6 276.9 458.8 278.2 461.8 C279.5 464.8 280.7 464.6 282 466.9 C283.3 469.2 284.7 472.8 285.8 475.8 C286.9 478.8 288 482.7 288.9 484.7 C289.8 486.7 290.3 488.4 290.9 488 C291.5 487.6 292.1 486.5 292.7 482.1 C293.3 477.7 293.9 468.6 294.7 461.8 C295.5 455 296.2 447.8 297.3 441.4 C298.4 435 299.8 428.3 301.1 423.6 C302.4 418.9 303.6 416.1 304.9 413.4 C306.2 410.6 307.4 409 308.7 407.1 C310 405.2 311.2 404.8 312.5 402 C313.8 399.2 315.3 393.7 316.3 390.5 C317.3 387.3 317.5 385.5 318.3 383 C319.1 380.5 320.3 378.7 321.3 375.4 C322.3 372.1 323.2 366.9 324.4 363.2 C325.6 359.5 327.1 355.7 328.5 353 C329.9 350.3 331.1 348.8 332.5 346.9 C333.9 345 335.2 343.2 336.6 341.8 C338 340.4 339.4 339.2 340.7 338.4 C342 337.6 343.3 337.3 344.7 337.2 C346.1 337.1 347.6 338.2 348.8 337.8 C350 337.4 350.6 335.9 351.8 334.7 C353 333.5 354.7 331.9 355.9 330.7 C357.1 329.5 357.9 329 358.9 327.6 C359.9 326.2 361 324.4 362 322.5 C363 320.6 364 318.3 365 316.4 C366 314.5 367.1 312.3 368.1 311.3 C369.1 310.3 370.2 310.5 371.1 310.3 C372 310.1 372.9 310.5 373.6 309.9 C374.4 309.3 375.1 307.5 375.6 306.7 C376.1 305.9 376.6 305.4 376.8 305.2"/>
</g>
<path stroke="#ee4d4d" stroke-width="1.5" d="M60.4 445.9 H83.3"/>
<path stroke="#3fb2d2" stroke-width="1.5" d="M60.4 456.6 H83.3"/>
<path stroke="#12c276" stroke-width="1.7" d="M60.4 466.7 H83.3"/>
<path stroke="#2b2b2b" stroke-width="1.25" d="M60.4 477.4 H83.3"/>
<g style="font-family:'Liberation Serif',serif;font-size:9.5px;font-weight:bold">
<text transform="translate(95.2 447.6) scale(1.18 1)">C</text>
<text transform="translate(95.2 458.2) scale(1.18 1)">CP<tspan dy="0.7" font-size="6.8">10</tspan></text>
<text transform="translate(95.2 468.5) scale(1.18 1)">CP<tspan dy="0.7" font-size="6.8">20</tspan></text>
<text transform="translate(95.2 479) scale(1.18 1)">CP<tspan dy="0.7" font-size="6.8">30</tspan></text>
</g>
</g>
</svg>
</body></html>
